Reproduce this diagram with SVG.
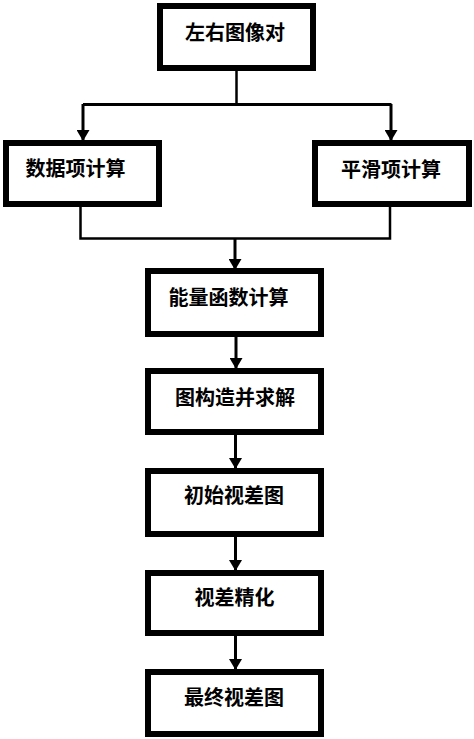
<svg xmlns="http://www.w3.org/2000/svg" width="474" height="739" viewBox="0 0 474 739">
<style>
.box{fill:#fff;stroke:#000;stroke-width:6}
.lbl{font-family:"Noto Sans CJK SC","Noto Sans",sans-serif;font-weight:bold;font-size:20px;fill:#000;text-anchor:middle}
.ln{fill:none;stroke:#000;stroke-width:3}
.ar{marker-end:url(#ah)}
</style>
<defs>
<marker id="ah" markerUnits="userSpaceOnUse" markerWidth="12" markerHeight="13" refX="11" refY="6.5" orient="auto" viewBox="0 0 12 13">
<path d="M0,0 L11,6.5 L0,13 Z" fill="#000"/>
</marker>
</defs>
<rect width="474" height="739" fill="#fff"/>
<g id="connectors">
<path class="ln" d="M236.5 70 V104.5" style="stroke-width:2.5"/>
<path class="ln" d="M83 104.5 H391.5"/>
<path class="ln ar" d="M83 104 V141"/>
<path class="ln ar" d="M391 104 V141"/>
<path class="ln" d="M80.5 206 V238.5 H390 V206" style="stroke-width:2.5"/>
<path class="ln ar" d="M235 238.5 V270"/>
<path class="ln ar" d="M236 336 V369"/>
<path class="ln ar" d="M235.5 434 V469"/>
<path class="ln ar" d="M235.5 536 V571"/>
<path class="ln ar" d="M235.5 635 V670"/>
</g>
<g id="n1"><rect class="box" x="160" y="6" width="153" height="62"/><text class="lbl" x="235" y="40">左右图像对</text></g>
<g id="n2"><rect class="box" x="6" y="143" width="153" height="61"/><text class="lbl" x="75.5" y="176">数据项计算</text></g>
<g id="n3"><rect class="box" x="315" y="143" width="154" height="61"/><text class="lbl" x="391" y="177">平滑项计算</text></g>
<g id="n4"><rect class="box" x="148" y="271" width="173" height="63"/><text class="lbl" x="228.5" y="305">能量函数计算</text></g>
<g id="n5"><rect class="box" x="148" y="371" width="173" height="61"/><text class="lbl" x="235" y="405">图构造并求解</text></g>
<g id="n6"><rect class="box" x="148" y="471" width="173" height="63"/><text class="lbl" x="234" y="503">初始视差图</text></g>
<g id="n7"><rect class="box" x="148" y="573" width="173" height="60"/><text class="lbl" x="234.5" y="605">视差精化</text></g>
<g id="n8"><rect class="box" x="148" y="672" width="173" height="62"/><text class="lbl" x="234" y="705">最终视差图</text></g>
</svg>
